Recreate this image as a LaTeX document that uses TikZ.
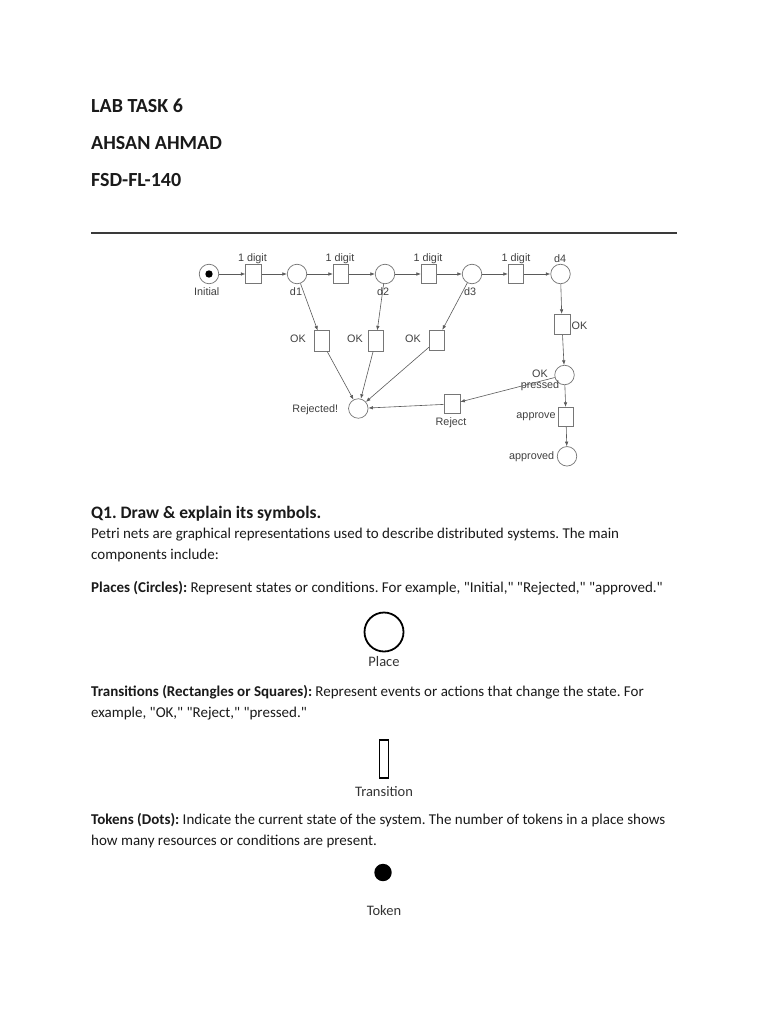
\documentclass[tikz,border=0pt]{standalone}
\usepackage{fontspec}
\setmainfont{Carlito}[Ligatures=TeXOff]
\newfontfamily\netfont{Liberation Sans}
\usetikzlibrary{arrows.meta}
\definecolor{ink}{HTML}{1A1A1A}
\definecolor{capink}{HTML}{333333}
\definecolor{netline}{HTML}{5A5A5A}
\definecolor{netshape}{HTML}{767676}
\definecolor{nettext}{HTML}{404040}
\definecolor{rulecol}{HTML}{3A3A3A}
\frenchspacing
\begin{document}
\begin{tikzpicture}[x=1pt,y=-1pt,
  place/.style={circle,draw=netshape,line width=0.7pt,minimum size=19.5pt,inner sep=0pt},
  trans/.style={rectangle,draw=netshape,line width=0.7pt,minimum width=15.5pt,minimum height=19pt,inner sep=0pt},
  arc/.style={draw=netline,line width=0.6pt,-{Latex[length=4.5pt,width=3.5pt]}},
  lbl/.style={font=\netfont\fontsize{10.8}{12.5}\selectfont,text=nettext,inner sep=0pt},
  head/.style={font=\fontsize{20}{24}\selectfont\bfseries\frenchspacing,text=ink,anchor=base west,inner sep=0pt},
  qhead/.style={font=\fontsize{17.5}{21}\selectfont\bfseries\frenchspacing,text=ink,anchor=base west,inner sep=0pt},
  body/.style={font=\fontsize{15}{18}\selectfont\frenchspacing,text=ink,anchor=base west,inner sep=0pt},
  caption/.style={font=\fontsize{14.5}{17}\selectfont,text=capink,anchor=base,inner sep=0pt}
]
\useasboundingbox[fill=white] (0,0) rectangle (768,1024);

% header
\node[head] (h1) at (91,113) {LAB TASK 6};
\node[head] (h2) at (91,150) {AHSAN AHMAD};
\node[head] (h3) at (91,187) {FSD-FL-140};
\draw[rulecol,line width=1.3pt] (91,233) -- (677,233);

% Petri net
\node[place] (pI) at (209,274) {};
\fill[black] (pI) circle (3.7);
\node[trans] (t1) at (253.5,274) {};
\node[place] (d1) at (297,274) {};
\node[trans] (t2) at (341,274) {};
\node[place] (d2) at (385,274) {};
\node[trans] (t3) at (429,274) {};
\node[place] (d3) at (472,274) {};
\node[trans] (t4) at (516,274) {};
\node[place] (d4) at (560.5,274) {};

\node[trans,minimum width=15pt,minimum height=20.5pt] (ok1) at (321.5,341) {};
\node[trans,minimum width=15pt,minimum height=20.5pt] (ok2) at (375.8,341) {};
\node[trans,minimum width=15pt,minimum height=20.5pt] (ok3) at (436.7,340.5) {};
\node[trans,minimum width=16pt,minimum height=20.5pt] (ok4) at (562,324.5) {};
\node[place] (okp) at (564.5,375) {};
\node[trans,minimum width=16pt,minimum height=18.5pt] (rejT) at (452,404) {};
\node[place] (rej) at (358.3,408.5) {};
\node[trans,minimum width=15.5pt,minimum height=19.5pt] (appT) at (566,417) {};
\node[place] (appd) at (567,456.3) {};

\node[lbl] (lI) at (206.7,291.5) {Initial};
\node[lbl] (l1) at (252.5,258.5) {1 digit};
\node[lbl] (l2) at (340,258.5) {1 digit};
\node[lbl] (l3) at (428,258.5) {1 digit};
\node[lbl] (l4) at (516,258.5) {1 digit};
\node[lbl] (ld1) at (296,291.5) {d1};
\node[lbl] (ld2) at (383,291.5) {d2};
\node[lbl] (ld3) at (470,292) {d3};
\node[lbl] (ld4) at (560,258.5) {d4};
\node[lbl] (lok1) at (298,339) {OK};
\node[lbl] (lok2) at (355,339) {OK};
\node[lbl] (lok3) at (413,339) {OK};
\node[lbl] (lok4) at (579.5,326) {OK};
\node[lbl,align=center] (lokp) at (540,380) {OK\\[-1.5pt]pressed};
\node[lbl] (lrejT) at (451,422.5) {Reject};
\node[lbl] (lrej) at (315.3,410) {Rejected!};
\node[lbl] (lapp) at (536,416.7) {approve};
\node[lbl] (lappd) at (531.7,456.7) {approved};

\draw[arc] (pI) -- (t1);
\draw[arc] (t1) -- (d1);
\draw[arc] (d1) -- (t2);
\draw[arc] (t2) -- (d2);
\draw[arc] (d2) -- (t3);
\draw[arc] (t3) -- (d3);
\draw[arc] (d3) -- (t4);
\draw[arc] (t4) -- (d4);
\draw[arc] (d1) -- (ok1);
\draw[arc] (d2) -- (ok2);
\draw[arc] (d3) -- (ok3);
\draw[arc] (ok1) -- (rej);
\draw[arc] (ok2) -- (rej);
\draw[arc] (ok3) -- (rej);
\draw[arc] (d4) -- (ok4);
\draw[arc] (ok4) -- (okp);
\draw[arc] (okp) -- (rejT);
\draw[arc] (rejT) -- (rej);
\draw[arc] (okp) -- (appT);
\draw[arc] (appT) -- (appd);

% text body
\node[qhead] (q1) at (91,518.5) {Q1. Draw \& explain its symbols.};
\node[body] (b1) at (91,538.5) {Petri nets are graphical representations used to describe distributed systems. The main};
\node[body] (b2) at (91,559.5) {components include:};
\node[body] (b3) at (91,592.5) {\textbf{Places (Circles):} Represent states or conditions. For example, "Initial," "Rejected," "approved."};

\node[circle,draw=black,line width=1.8pt,minimum size=39pt,inner sep=0pt] (symP) at (384,632) {};
\node[caption] (cP) at (384,666) {Place};

\node[body] (b4) at (91,696.5) {\textbf{Transitions (Rectangles or Squares):} Represent events or actions that change the state. For};
\node[body] (b5) at (91,717.5) {example, "OK," "Reject," "pressed."};

\node[rectangle,draw=black,line width=1.5pt,minimum width=9pt,minimum height=38pt,inner sep=0pt] (symT) at (384,759) {};
\node[caption] (cT) at (384,796) {Transition};

\node[body] (b6) at (91,824.5) {\textbf{Tokens (Dots):} Indicate the current state of the system. The number of tokens in a place shows};
\node[body] (b7) at (91,845.5) {how many resources or conditions are present.};

\node[circle,fill=black,minimum size=17.4pt,inner sep=0pt] (symK) at (383,872.5) {};
\node[caption] (cK) at (384,915) {Token};
\end{tikzpicture}
\end{document}
